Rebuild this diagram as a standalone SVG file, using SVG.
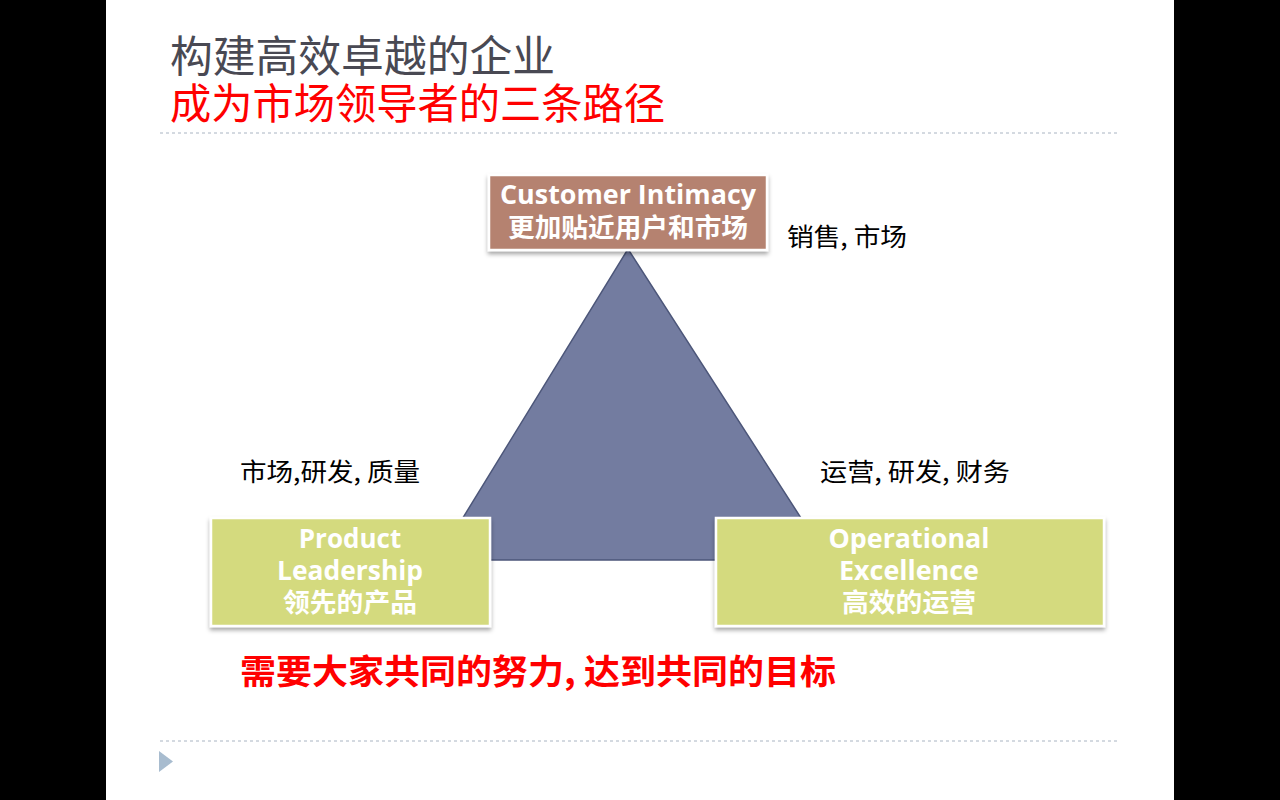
<svg xmlns="http://www.w3.org/2000/svg" width="1280" height="800" viewBox="0 0 1280 800">
<defs>
<filter id="sh" x="-10%" y="-10%" width="120%" height="130%">
<feDropShadow dx="0" dy="3" stdDeviation="2" flood-color="#000" flood-opacity="0.35"/>
</filter>
</defs>
<style>
.cjk{font-family:"Noto Sans CJK SC","Microsoft YaHei",sans-serif}
.en{font-family:"Open Sans","Noto Sans CJK SC",sans-serif;font-weight:bold;fill:#fff}
.box{stroke:#fff;stroke-width:2.5;filter:url(#sh)}
.lbl{font-family:"Noto Sans CJK SC",sans-serif;font-size:25px;fill:#000}
.rule{stroke:#a9b4c2;stroke-width:1;stroke-dasharray:3 3}
</style>
<rect x="0" y="0" width="1280" height="800" fill="#000"/>
<rect x="106" y="0" width="1068" height="800" fill="#fff"/>
<text x="170" y="72" class="cjk" font-size="43" fill="#494953" textLength="385" lengthAdjust="spacingAndGlyphs">构建高效卓越的企业</text>
<text x="170" y="119" class="cjk" font-size="42" fill="#ff0000" textLength="495" lengthAdjust="spacingAndGlyphs">成为市场领导者的三条路径</text>
<line x1="160" y1="133" x2="1120" y2="133" class="rule"/>
<line x1="160" y1="741" x2="1120" y2="741" class="rule"/>
<polygon points="159,751 173,761.5 159,772" fill="#a8bccf"/>
<g id="connectors">
<polygon points="628,249 437,560 828,560" fill="#737ca0" stroke="#4c5679" stroke-width="1.5"/>
</g>
<g id="customer">
<rect x="489" y="175" width="278" height="75" fill="#b5826f" class="box"/>
<text x="628" y="204" class="en" font-size="26" text-anchor="middle" textLength="256" lengthAdjust="spacingAndGlyphs">Customer Intimacy</text>
<text x="628" y="237" class="cjk" font-size="26" font-weight="bold" fill="#fff" text-anchor="middle" textLength="240" lengthAdjust="spacingAndGlyphs">更加贴近用户和市场</text>
</g>
<g id="product">
<rect x="211" y="518" width="279" height="108" fill="#d4da7e" class="box"/>
<text x="350" y="548" class="en" font-size="26" text-anchor="middle">Product</text>
<text x="350" y="580" class="en" font-size="26" text-anchor="middle" textLength="146" lengthAdjust="spacingAndGlyphs">Leadership</text>
<text x="350" y="612" class="cjk" font-size="26" font-weight="bold" fill="#fff" text-anchor="middle" textLength="134" lengthAdjust="spacingAndGlyphs">领先的产品</text>
</g>
<g id="operational">
<rect x="716" y="518" width="388" height="108" fill="#d4da7e" class="box"/>
<text x="909" y="548" class="en" font-size="26" text-anchor="middle" textLength="161" lengthAdjust="spacingAndGlyphs">Operational</text>
<text x="909" y="580" class="en" font-size="26" text-anchor="middle" textLength="140" lengthAdjust="spacingAndGlyphs">Excellence</text>
<text x="909" y="612" class="cjk" font-size="26" font-weight="bold" fill="#fff" text-anchor="middle" textLength="134" lengthAdjust="spacingAndGlyphs">高效的运营</text>
</g>
<text x="787" y="246" class="lbl" textLength="120" lengthAdjust="spacingAndGlyphs">销售, 市场</text>
<text x="240" y="481" class="lbl" textLength="180" lengthAdjust="spacingAndGlyphs">市场,研发, 质量</text>
<text x="820" y="481" class="lbl" textLength="190" lengthAdjust="spacingAndGlyphs">运营, 研发, 财务</text>
<text x="240" y="684" class="cjk" font-size="34" font-weight="bold" fill="#ff0000" textLength="596" lengthAdjust="spacingAndGlyphs">需要大家共同的努力, 达到共同的目标</text>
</svg>
